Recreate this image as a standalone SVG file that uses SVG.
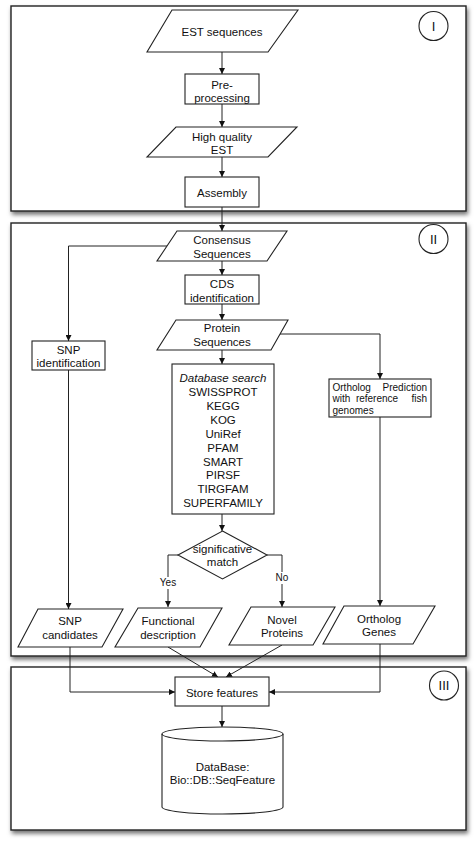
<svg xmlns="http://www.w3.org/2000/svg" width="474" height="842" viewBox="0 0 474 842">
<style>
text{font-family:"Liberation Sans",Arial,sans-serif;font-size:11.5px;fill:#111;text-anchor:middle}
.s{fill:#fff;stroke:#222;stroke-width:1.1}
.panel{fill:#fff;stroke:#222;stroke-width:1.4}
.c{fill:none;stroke:#222;stroke-width:1}
.lbl{font-size:10px}
.small{font-size:10px;text-anchor:start}
.end{text-anchor:end}
.mid{text-anchor:middle}
.num{font-size:13px}
</style>
<defs>
<marker id="ah" viewBox="0 0 10 10" refX="10" refY="5" markerWidth="6" markerHeight="6" orient="auto" markerUnits="userSpaceOnUse">
<path d="M0,0 L10,5 L0,10 Z" fill="#111"/>
</marker>
<filter id="sh" x="-5%" y="-5%" width="110%" height="115%">
<feDropShadow dx="1.5" dy="3" stdDeviation="2" flood-color="#000" flood-opacity="0.55"/>
</filter>
</defs>

<g id="panels">
<rect class="panel" x="11" y="6" width="455" height="205" filter="url(#sh)"/>
<rect class="panel" x="11" y="223" width="455" height="433" filter="url(#sh)"/>
<rect class="panel" x="11" y="667" width="455" height="163" filter="url(#sh)"/>
</g>

<g id="connectors">
<path class="c" d="M222,52 V74" marker-end="url(#ah)"/>
<path class="c" d="M222,104 V127" marker-end="url(#ah)"/>
<path class="c" d="M222,157 V177" marker-end="url(#ah)"/>
<path class="c" d="M222,207 V231" marker-end="url(#ah)"/>
<path class="c" d="M222,261 V275" marker-end="url(#ah)"/>
<path class="c" d="M167,246 H68.5 V341" marker-end="url(#ah)"/>
<path class="c" d="M222,304 V320" marker-end="url(#ah)"/>
<path class="c" d="M222,350 V364" marker-end="url(#ah)"/>
<path class="c" d="M280,334 H380 V379" marker-end="url(#ah)"/>
<path class="c" d="M222,514 V531" marker-end="url(#ah)"/>
<path class="c" d="M178,555 H168 V607" marker-end="url(#ah)"/>
<path class="c" d="M267,555 H282 V607" marker-end="url(#ah)"/>
<path class="c" d="M68.5,370 V609" marker-end="url(#ah)"/>
<path class="c" d="M380,417 V606" marker-end="url(#ah)"/>
<path class="c" d="M168,647 L218,677" marker-end="url(#ah)"/>
<path class="c" d="M282,645 L226,677" marker-end="url(#ah)"/>
<path class="c" d="M70,647 V692 H175" marker-end="url(#ah)"/>
<path class="c" d="M380,644 V692 H269" marker-end="url(#ah)"/>
<path class="c" d="M222,706 V727" marker-end="url(#ah)"/>
<rect x="159" y="577" width="18" height="12" fill="#fff"/>
<text class="lbl" x="168" y="586">Yes</text>
<rect x="274" y="572" width="16" height="12" fill="#fff"/>
<text class="lbl" x="282" y="581">No</text>
</g>

<g id="label-I"><circle class="s" cx="433.5" cy="26" r="14.5"/><text class="num" x="433.5" y="30.5">I</text></g>
<g id="label-II"><circle class="s" cx="433.5" cy="239" r="14.5"/><text class="num" x="433.5" y="243.5">II</text></g>
<g id="label-III"><circle class="s" cx="444" cy="685.5" r="14.5"/><text class="num" x="444" y="690">III</text></g>

<g id="est-sequences">
<polygon class="s" points="172,10 298,10 268,52 147,52"/>
<text x="222" y="36">EST sequences</text>
</g>
<g id="pre-processing">
<rect class="s" x="185" y="74" width="74" height="30"/>
<text x="222" y="89">Pre-</text><text x="222" y="102">processing</text>
</g>
<g id="high-quality-est">
<polygon class="s" points="176,127 297,127 268,157 147,157"/>
<text x="222" y="141">High quality</text><text x="222" y="154">EST</text>
</g>
<g id="assembly">
<rect class="s" x="185" y="177" width="74" height="30"/>
<text x="222" y="197">Assembly</text>
</g>

<g id="consensus-sequences">
<polygon class="s" points="177,231 287,231 267,261 157,261"/>
<text x="222" y="244">Consensus</text><text x="222" y="258">Sequences</text>
</g>
<g id="cds-identification">
<rect class="s" x="185" y="275" width="74" height="29"/>
<text x="222" y="288">CDS</text><text x="222" y="302">identification</text>
</g>
<g id="snp-identification">
<rect class="s" x="32" y="341" width="73" height="29"/>
<text x="68.5" y="354">SNP</text><text x="68.5" y="367">identification</text>
</g>
<g id="protein-sequences">
<polygon class="s" points="176,320 288,320 271,350 157,350"/>
<text x="222" y="332">Protein</text><text x="222" y="346">Sequences</text>
</g>
<g id="database-search">
<rect class="s" x="172" y="364" width="102" height="150"/>
<text x="223" y="382" font-style="italic">Database search</text>
<text x="223" y="396">SWISSPROT</text>
<text x="223" y="410">KEGG</text>
<text x="223" y="424">KOG</text>
<text x="223" y="437.5">UniRef</text>
<text x="223" y="451.5">PFAM</text>
<text x="223" y="465.5">SMART</text>
<text x="223" y="479">PIRSF</text>
<text x="223" y="493">TIRGFAM</text>
<text x="223" y="507">SUPERFAMILY</text>
</g>
<g id="ortholog-prediction">
<rect class="s" x="329" y="379" width="102" height="38"/>
<text class="small" x="332.5" y="390.5">Ortholog</text><text class="small end" x="427" y="390.5">Prediction</text>
<text class="small" x="332.5" y="402">with</text><text class="small mid" x="377" y="402">reference</text><text class="small end" x="427" y="402">fish</text>
<text class="small" x="332.5" y="413.5">genomes</text>
</g>
<g id="significative-match">
<polygon class="s" points="222.5,531 267,555 222.5,579 178,555"/>
<text x="222.5" y="553">significative</text><text x="222.5" y="566">match</text>
</g>
<g id="snp-candidates">
<polygon class="s" points="38,609 123,609 102,647 18,647"/>
<text x="70" y="625">SNP</text><text x="70" y="639">candidates</text>
</g>
<g id="functional-description">
<polygon class="s" points="138,608 222,608 200,647 115,647"/>
<text x="168" y="625">Functional</text><text x="168" y="639">description</text>
</g>
<g id="novel-proteins">
<polygon class="s" points="251,607 335,607 313,645 229,645"/>
<text x="282" y="624">Novel</text><text x="282" y="637">Proteins</text>
</g>
<g id="ortholog-genes">
<polygon class="s" points="344,606 435,606 413,644 323,644"/>
<text x="379" y="623">Ortholog</text><text x="379" y="636">Genes</text>
</g>

<g id="store-features">
<rect class="s" x="175" y="677" width="94" height="29"/>
<text x="222" y="697">Store features</text>
</g>
<g id="database">
<path class="s" d="M162,734 A60.5,7 0 0,1 283,734 V807 A60.5,7 0 0,1 162,807 Z"/>
<path class="c" d="M162,734 A60.5,7 0 0,0 283,734" style="stroke-width:1.1"/>
<text x="222.5" y="771">DataBase:</text><text x="222.5" y="784">Bio::DB::SeqFeature</text>
</g>
</svg>
